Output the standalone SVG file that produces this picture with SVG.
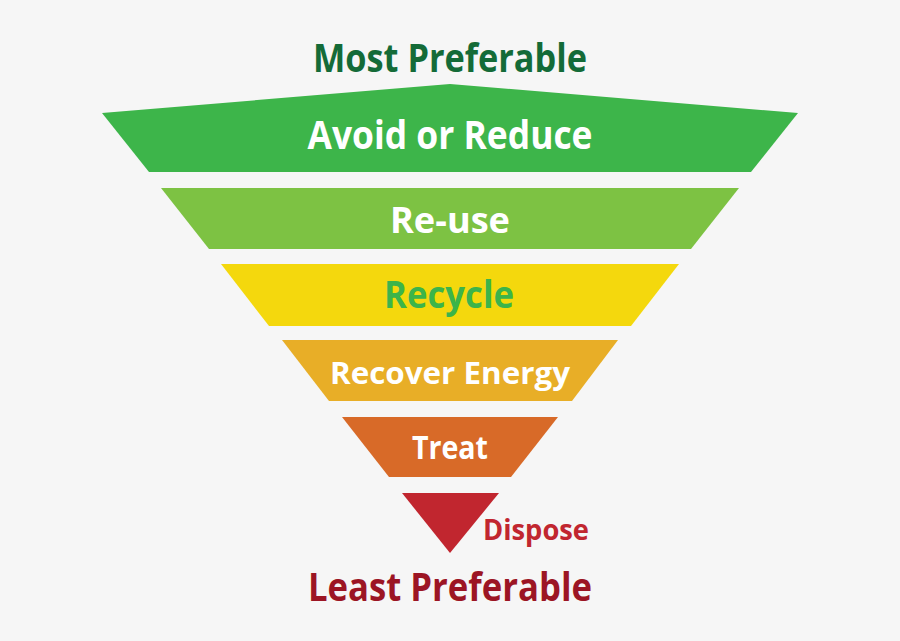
<svg xmlns="http://www.w3.org/2000/svg" width="900" height="641" viewBox="0 0 900 641">
<style>
text{font-family:"Open Sans","Noto Sans","Liberation Sans",sans-serif;font-weight:bold;text-anchor:middle}
.w{fill:#ffffff}
</style>
<rect width="900" height="641" fill="#f6f6f6"/>
<g id="title-top"><text x="450" y="72" font-size="40" fill="#146b38" textLength="274" lengthAdjust="spacingAndGlyphs">Most Preferable</text></g>
<g id="avoid">
<polygon points="102,113 450,84 798,113 751,172 149,172" fill="#3db54a"/>
<text class="w" x="450" y="149" font-size="40" textLength="285" lengthAdjust="spacingAndGlyphs">Avoid or Reduce</text>
</g>
<g id="reuse">
<polygon points="161,188 739,188 691,249 209,249" fill="#7dc243"/>
<text class="w" x="450" y="233" font-size="36" textLength="120" lengthAdjust="spacingAndGlyphs">Re-use</text>
</g>
<g id="recycle">
<polygon points="221,264 679,264 631,326 269,326" fill="#f4d80d"/>
<text x="449" y="308" font-size="38" fill="#3cb44a" textLength="130" lengthAdjust="spacingAndGlyphs">Recycle</text>
</g>
<g id="recover">
<polygon points="282,340 618,340 572,401 329,401" fill="#e8ae27"/>
<text class="w" x="450" y="384" font-size="31" textLength="240" lengthAdjust="spacingAndGlyphs">Recover Energy</text>
</g>
<g id="treat">
<polygon points="342,417 558,417 511,477 389,477" fill="#d86a28"/>
<text class="w" x="450" y="459" font-size="33" textLength="76" lengthAdjust="spacingAndGlyphs">Treat</text>
</g>
<g id="dispose">
<polygon points="402,493 499,493 450,553" fill="#c1262f"/>
<text x="536" y="540" font-size="29" fill="#c1262f" textLength="106" lengthAdjust="spacingAndGlyphs">Dispose</text>
</g>
<g id="title-bottom"><text x="450" y="601" font-size="40" fill="#9c1524" textLength="284" lengthAdjust="spacingAndGlyphs">Least Preferable</text></g>
<g id="connectors"></g>
</svg>
